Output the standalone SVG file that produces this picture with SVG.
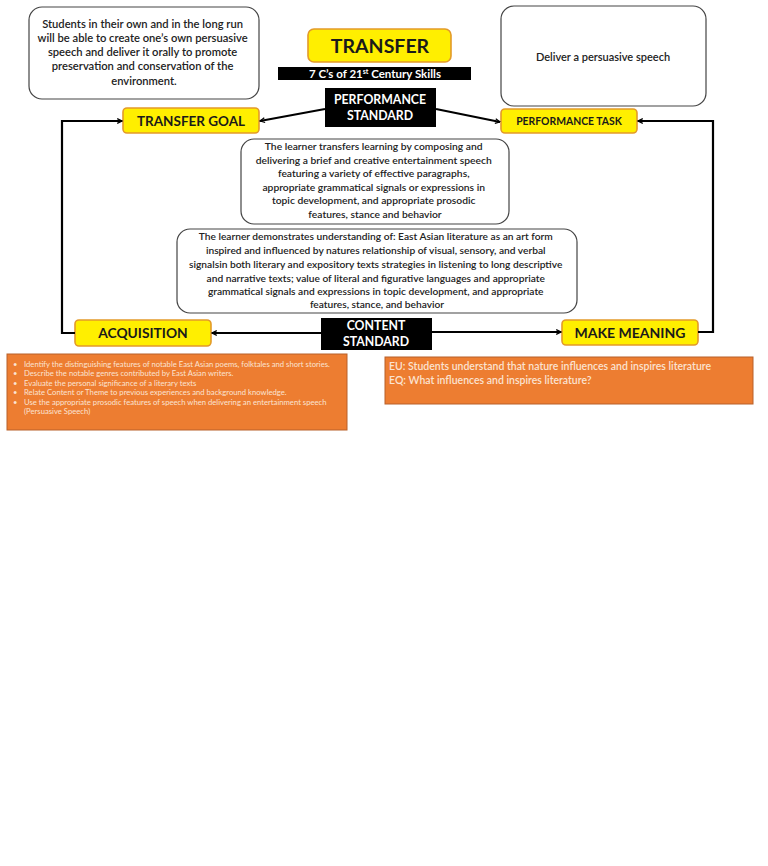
<svg xmlns="http://www.w3.org/2000/svg" width="768" height="866" viewBox="0 0 768 866">
<defs>
<style>
.wbox{fill:#fff;stroke:#444;stroke-width:1.2}
.ybox{fill:#FFEF00;stroke:#E39A2A;stroke-width:1.6}
.blk{fill:#000}
.t{font-family:Lato,"Liberation Sans",sans-serif;font-weight:600;fill:#222;text-anchor:middle}
.yt{font-family:Lato,"Liberation Sans",sans-serif;font-weight:700;fill:#1a1a1a;text-anchor:middle}
.wt{font-family:Lato,"Liberation Sans",sans-serif;font-weight:700;fill:#fff;text-anchor:middle}
.org{fill:#ED7D31;stroke:#B8612A;stroke-width:1}
.ot{font-family:Lato,"Liberation Sans",sans-serif;fill:#FBE3D2;font-size:7.7px}
.ot2{font-family:Lato,"Liberation Sans",sans-serif;fill:#FBE3D2;font-size:10.5px;font-weight:600}
.con{fill:none;stroke:#000;stroke-width:2.2}
</style>
<marker id="ah" viewBox="0 0 10 10" refX="9" refY="5" markerWidth="6" markerHeight="6" orient="auto" markerUnits="userSpaceOnUse">
<path d="M1,1 L9,5 L1,9" fill="none" stroke="#000" stroke-width="2"/>
</marker>
</defs>
<rect width="768" height="866" fill="#fff"/>

<g id="goal-text">
<rect class="wbox" x="29" y="7" width="230" height="92" rx="13"/>
<text class="t" font-size="11.2">
<tspan x="144" y="28">Students in their own and in the long run</tspan>
<tspan x="144" y="42">will be able to create one’s own persuasive</tspan>
<tspan x="144" y="56">speech and deliver it orally to promote</tspan>
<tspan x="144" y="70">preservation and conservation of the</tspan>
<tspan x="144" y="85">environment.</tspan>
</text>
</g>

<g id="transfer">
<rect class="ybox" x="308" y="29" width="143" height="33" rx="6"/>
<text class="yt" x="380" y="53" font-size="19.5">TRANSFER</text>
</g>

<g id="skills">
<rect class="blk" x="278" y="67" width="193" height="13"/>
<text class="wt" x="375" y="78" font-size="11.5">7 C’s of 21<tspan font-size="7" dy="-4">st</tspan><tspan dy="4"> Century Skills</tspan></text>
</g>

<g id="task-text">
<rect class="wbox" x="501" y="6" width="205" height="100" rx="13"/>
<text class="t" font-size="11" x="603" y="61">Deliver a persuasive speech</text>
</g>

<g id="performance-standard">
<rect class="blk" x="325" y="88" width="111" height="39"/>
<text class="wt" font-size="12.3"><tspan x="380" y="104">PERFORMANCE</tspan><tspan x="380" y="120">STANDARD</tspan></text>
</g>

<g id="transfer-goal">
<rect class="ybox" x="123" y="108" width="136" height="25" rx="4"/>
<text class="yt" x="191" y="126" font-size="13.5">TRANSFER GOAL</text>
</g>

<g id="performance-task">
<rect class="ybox" x="501" y="109" width="136" height="24" rx="4"/>
<text class="yt" x="569" y="125" font-size="10.4">PERFORMANCE TASK</text>
</g>

<g id="ps-text">
<rect class="wbox" x="241" y="139" width="268" height="85" rx="13"/>
<text class="t" font-size="10.3">
<tspan x="375" y="150">The learner transfers learning by composing and</tspan>
<tspan x="375" y="164">delivering a brief and creative entertainment  speech</tspan>
<tspan x="375" y="177">featuring a variety of effective paragraphs,</tspan>
<tspan x="375" y="191">appropriate grammatical signals or expressions in</tspan>
<tspan x="375" y="204">topic development, and appropriate prosodic</tspan>
<tspan x="375" y="218">features, stance and behavior</tspan>
</text>
</g>

<g id="cs-text">
<rect class="wbox" x="177" y="229" width="400" height="84" rx="13"/>
<text class="t" font-size="10.2">
<tspan x="377" y="240">The learner demonstrates understanding of: East Asian literature  as an art form</tspan>
<tspan x="377" y="254">inspired and influenced by natures relationship of visual, sensory, and verbal</tspan>
<tspan x="377" y="268">signalsin both literary and expository texts strategies in listening to long descriptive</tspan>
<tspan x="377" y="282">and narrative texts; value of literal and figurative languages and appropriate</tspan>
<tspan x="377" y="295">grammatical signals and expressions in topic development, and appropriate</tspan>
<tspan x="377" y="308">features, stance, and behavior</tspan>
</text>
</g>

<g id="acquisition">
<rect class="ybox" x="75" y="320" width="136" height="26" rx="4"/>
<text class="yt" x="143" y="338" font-size="13.8">ACQUISITION</text>
</g>

<g id="content-standard">
<rect class="blk" x="321" y="318" width="111" height="32"/>
<text class="wt" font-size="12.3"><tspan x="376" y="330">CONTENT</tspan><tspan x="376" y="346">STANDARD</tspan></text>
</g>

<g id="make-meaning">
<rect class="ybox" x="562" y="320" width="136" height="25" rx="4"/>
<text class="yt" x="630" y="338" font-size="14">MAKE MEANING</text>
</g>

<g id="acquisition-list">
<rect class="org" x="7" y="354" width="340" height="76"/>
<g class="ot">
<text x="13" y="367">•</text><text x="24" y="367">Identify the distinguishing features of notable East Asian poems, folktales and short stories.</text>
<text x="13" y="376">•</text><text x="24" y="376">Describe the notable genres contributed by East Asian writers.</text>
<text x="13" y="386">•</text><text x="24" y="386">Evaluate the personal significance of a literary texts</text>
<text x="13" y="395">•</text><text x="24" y="395">Relate Content or Theme to previous experiences and background knowledge.</text>
<text x="13" y="405">•</text><text x="24" y="405">Use the appropriate prosodic features of speech when delivering an entertainment speech</text>
<text x="24" y="414">(Persuasive Speech)</text>
</g>
</g>

<g id="eu-eq">
<rect class="org" x="385" y="357" width="368" height="47"/>
<text class="ot2" x="389" y="370">EU: Students  understand that nature influences and inspires literature</text>
<text class="ot2" x="389" y="384">EQ: What influences and inspires literature?</text>
</g>

<g id="connectors">
<path class="con" d="M325,109 L260,121" marker-end="url(#ah)"/>
<path class="con" d="M436,109 L500,122" marker-end="url(#ah)"/>
<path class="con" d="M75,333 L62,333 L62,121 L122,121" marker-end="url(#ah)"/>
<path class="con" d="M698,332 L713,332 L713,121 L638,121" marker-end="url(#ah)"/>
<path class="con" d="M321,333 L212,333" marker-end="url(#ah)"/>
<path class="con" d="M432,332 L561,332" marker-end="url(#ah)"/>
</g>
</svg>
